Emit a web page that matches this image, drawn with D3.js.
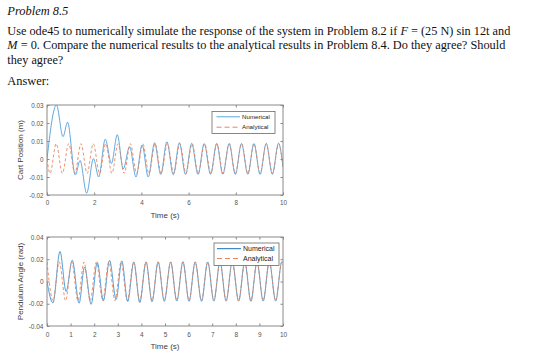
<!DOCTYPE html>
<html><head><meta charset="utf-8">
<script src="https://cdn.jsdelivr.net/npm/d3@7"></script>
<style>
html,body{margin:0;padding:0;background:#fff;}
svg{display:block;}
</style></head>
<body>
<svg id="c" width="543" height="359"></svg>
<script>
// ---------- data ----------
const xTicks1 = [0, 2, 4, 6, 8, 10];
const yTicks1 = [-0.02, -0.01, 0, 0.01, 0.02, 0.03];
const xTicks2 = [0, 1, 2, 3, 4, 5, 6, 7, 8, 9, 10];
const yTicks2 = [-0.04, -0.02, 0, 0.02, 0.04];
const seriesNames = ["Numerical", "Analytical"];

// Cart position — numerical (extrema)
const numCartT = [0, 0.40, 0.68, 0.87, 1.20, 1.40, 1.68, 1.97, 2.19, 2.47, 2.73, 2.98, 3.23, 3.50, 3.77, 4.03, 4.29, 4.56, 4.82, 5.08, 5.35, 5.61, 5.87, 6.13, 6.40, 6.66, 6.93, 7.19, 7.45, 7.72, 7.98, 8.24, 8.51, 8.77, 9.03, 9.29, 9.55, 9.81, 10];
const numCartY = [0, 0.0300, 0.0124, 0.0204, -0.0089, -0.0008, -0.0190, 0.0002, -0.0100, 0.0110, -0.0025, 0.0135, -0.0055, 0.0068, -0.0100, 0.0078, -0.0100, 0.0090, -0.0086, 0.0096, -0.0088, 0.0090, -0.0086, 0.0087, -0.0086, 0.0086, -0.0085, 0.0086, -0.0085, 0.0086, -0.0086, 0.0086, -0.0085, 0.0086, -0.0086, 0.0087, -0.0085, 0.0088, -0.0045];
// Cart position — analytical
const anaCartT = [0, 0.13, 0.39, 0.65, 0.92, 1.18, 1.44, 1.70, 1.96, 2.23, 2.49, 2.75, 3.01, 3.27, 3.53, 3.80, 4.06, 4.32, 4.58, 4.84, 5.10, 5.37, 5.63, 5.89, 6.15, 6.41, 6.68, 6.94, 7.20, 7.46, 7.72, 7.98, 8.25, 8.51, 8.77, 9.03, 9.29, 9.55, 9.82, 10];
const anaCartY = [0, -0.0080, 0.0085, -0.0080, 0.0085, -0.0080, 0.0085, -0.0080, 0.0085, -0.0080, 0.0085, -0.0080, 0.0085, -0.0080, 0.0085, -0.0080, 0.0085, -0.0080, 0.0085, -0.0080, 0.0085, -0.0080, 0.0085, -0.0080, 0.0085, -0.0080, 0.0085, -0.0080, 0.0085, -0.0080, 0.0085, -0.0080, 0.0085, -0.0080, 0.0085, -0.0080, 0.0085, -0.0080, 0.0085, -0.0047];

// Pendulum angle — numerical
const numPendT = [0, 0.25, 0.55, 0.81, 1.07, 1.36, 1.59, 1.87, 2.13, 2.39, 2.65, 2.93, 3.17, 3.42, 3.68, 3.93, 4.20, 4.45, 4.71, 4.97, 5.24, 5.50, 5.76, 6.02, 6.28, 6.55, 6.81, 7.07, 7.33, 7.59, 7.85, 8.12, 8.38, 8.64, 8.90, 9.16, 9.42, 9.69, 9.95, 10];
const numPendY = [0, -0.0193, 0.0270, -0.0090, 0.0192, -0.0195, 0.0130, -0.0205, 0.0172, -0.0172, 0.0190, -0.0160, 0.0185, -0.0180, 0.0176, -0.0190, 0.0176, -0.0182, 0.0176, -0.0178, 0.0176, -0.0176, 0.0178, -0.0178, 0.0176, -0.0178, 0.0176, -0.0176, 0.0176, -0.0176, 0.0178, -0.0176, 0.0176, -0.0178, 0.0176, -0.0176, 0.0178, -0.0176, 0.0176, 0.0170];
// Pendulum angle — analytical
const anaPendT = [0, 0.26, 0.52, 0.79, 1.05, 1.31, 1.57, 1.83, 2.09, 2.36, 2.62, 2.88, 3.14, 3.40, 3.67, 3.93, 4.19, 4.45, 4.71, 4.97, 5.24, 5.50, 5.76, 6.02, 6.28, 6.54, 6.81, 7.07, 7.33, 7.59, 7.85, 8.12, 8.38, 8.64, 8.90, 9.16, 9.42, 9.69, 9.95, 10];
const anaPendY = [0.0175, -0.0172, 0.0175, -0.0172, 0.0175, -0.0172, 0.0175, -0.0172, 0.0175, -0.0172, 0.0175, -0.0172, 0.0175, -0.0172, 0.0175, -0.0172, 0.0175, -0.0172, 0.0175, -0.0172, 0.0175, -0.0172, 0.0175, -0.0172, 0.0175, -0.0172, 0.0175, -0.0172, 0.0175, -0.0172, 0.0175, -0.0172, 0.0175, -0.0172, 0.0175, -0.0172, 0.0175, -0.0172, 0.0175, 0.0142];

// ---------- drawing ----------
const svg = d3.select("#c");
const serif = "'Liberation Serif','Times New Roman',serif";
const sans = "'Liberation Sans',Arial,Helvetica,sans-serif";

// problem text
svg.append("text").attr("x", 7.3).attr("y", 15).attr("font-family", serif)
  .attr("font-size", 12).attr("font-style", "italic").attr("fill", "#111")
  .attr("textLength", 61).attr("lengthAdjust", "spacingAndGlyphs").text("Problem 8.5");

const l1 = svg.append("text").attr("x", 7.3).attr("y", 35).attr("font-family", serif)
  .attr("font-size", 11.5).attr("fill", "#111").attr("textLength", 503).attr("lengthAdjust", "spacingAndGlyphs");
l1.append("tspan").text("Use ode45 to numerically simulate the response of the system in Problem 8.2 if ");
l1.append("tspan").attr("font-style", "italic").text("F");
l1.append("tspan").text(" = (25 N) sin 12t and");

const l2 = svg.append("text").attr("x", 7.3).attr("y", 49.3).attr("font-family", serif)
  .attr("font-size", 11.5).attr("fill", "#111").attr("textLength", 498).attr("lengthAdjust", "spacingAndGlyphs");
l2.append("tspan").attr("font-style", "italic").text("M");
l2.append("tspan").text(" = 0. Compare the numerical results to the analytical results in Problem 8.4. Do they agree? Should");

svg.append("text").attr("x", 7.3).attr("y", 63.6).attr("font-family", serif)
  .attr("font-size", 11.5).attr("fill", "#111").attr("textLength", 56).attr("lengthAdjust", "spacingAndGlyphs").text("they agree?");
svg.append("text").attr("x", 7.3).attr("y", 85).attr("font-family", serif)
  .attr("font-size", 11.5).attr("fill", "#111").attr("textLength", 42).attr("lengthAdjust", "spacingAndGlyphs").text("Answer:");

function panel(opt) {
  const x = d3.scaleLinear().domain([0, 10]).range([opt.left, opt.right]);
  const y = d3.scaleLinear().domain(opt.yDomain).range([opt.bottom, opt.top]);
  const g = svg.append("g");
  const axisCol = "#8a8a8a";

  g.append("rect").attr("x", opt.left).attr("y", opt.top)
    .attr("width", opt.right - opt.left).attr("height", opt.bottom - opt.top)
    .attr("fill", "#fff");

  const cid = "clip" + opt.id;
  svg.append("clipPath").attr("id", cid).append("rect")
    .attr("x", opt.left).attr("y", opt.top)
    .attr("width", opt.right - opt.left).attr("height", opt.bottom - opt.top);

  const line = d3.line().x(d => x(d[0])).y(d => y(d[1])).curve(d3.curveMonotoneX);
  const numData = opt.numT.map((t, i) => [t, opt.numY[i]]);
  const anaData = opt.anaT.map((t, i) => [t, opt.anaY[i]]);
  const lg = g.append("g").attr("clip-path", `url(#${cid})`);
  lg.append("path").attr("d", line(numData)).attr("fill", "none")
    .attr("stroke", opt.blue).attr("stroke-width", 0.9);
  lg.append("path").attr("d", line(anaData)).attr("fill", "none")
    .attr("stroke", "#e8865e").attr("stroke-width", 0.9).attr("stroke-dasharray", "3,2.2");

  const styleAxis = sel => {
    sel.select(".domain").remove();
    sel.selectAll(".tick line").attr("stroke", axisCol);
    sel.selectAll(".tick text").attr("fill", "#555").attr("font-family", sans).attr("font-size", opt.tickFs);
  };
  g.append("g").attr("transform", `translate(0,${opt.bottom})`)
    .call(d3.axisBottom(x).tickValues(opt.xTicks).tickSize(-2.5).tickPadding(6).tickFormat(d3.format("d")))
    .call(styleAxis);
  g.append("g").attr("transform", `translate(0,${opt.top})`)
    .call(d3.axisTop(x).tickValues(opt.xTicks).tickSize(-2.5).tickFormat(""))
    .call(styleAxis);
  g.append("g").attr("transform", `translate(${opt.left},0)`)
    .call(d3.axisLeft(y).tickValues(opt.yTicks).tickSize(-2.5).tickPadding(3.5).tickFormat(d => d === 0 ? "0" : d3.format(".2f")(d).replace("−", "-")))
    .call(styleAxis);
  g.append("g").attr("transform", `translate(${opt.right},0)`)
    .call(d3.axisRight(y).tickValues(opt.yTicks).tickSize(-2.5).tickFormat(""))
    .call(styleAxis);

  g.append("rect").attr("x", opt.left).attr("y", opt.top)
    .attr("width", opt.right - opt.left).attr("height", opt.bottom - opt.top)
    .attr("fill", "none").attr("stroke", axisCol).attr("stroke-width", 1);

  g.append("text").attr("x", (opt.left + opt.right) / 2).attr("y", opt.xLabelY)
    .attr("text-anchor", "middle").attr("font-family", sans).attr("font-size", 8)
    .attr("fill", "#404040").text("Time (s)");
  g.append("text").attr("transform", `translate(23.3,${(opt.top + opt.bottom) / 2}) rotate(-90)`)
    .attr("text-anchor", "middle").attr("font-family", sans).attr("font-size", 8)
    .attr("fill", "#404040").text(opt.yLabel);

  const L = opt.legend;
  g.append("rect").attr("x", L.x0).attr("y", L.y0).attr("width", L.x1 - L.x0).attr("height", L.y1 - L.y0)
    .attr("fill", "#fff").attr("stroke", "#6a6a6a").attr("stroke-width", 0.8);
  const rows = [
    {name: seriesNames[0], color: opt.legBlue, dash: null},
    {name: seriesNames[1], color: "#e8865e", dash: "5,3"}
  ];
  rows.forEach((r, i) => {
    const yy = L.rowY[i];
    g.append("line").attr("x1", L.lx0).attr("x2", L.lx1).attr("y1", yy).attr("y2", yy)
      .attr("stroke", r.color).attr("stroke-width", 1).attr("stroke-dasharray", r.dash);
    g.append("text").attr("x", L.tx).attr("y", yy).attr("dy", "0.35em")
      .attr("font-family", sans).attr("font-size", L.fs).attr("fill", "#222").text(r.name);
  });
}

panel({
  id: 1, left: 47, right: 283, top: 105, bottom: 195, yDomain: [-0.02, 0.03],
  xTicks: xTicks1, yTicks: yTicks1, numT: numCartT, numY: numCartY, anaT: anaCartT, anaY: anaCartY,
  blue: "#4f9fdb", legBlue: "#5aa8e0", tickFs: 6.3, xLabelY: 218, yLabel: "Cart Position (m)",
  legend: {x0: 212, x1: 275, y0: 111.5, y1: 133.5, lx0: 216.5, lx1: 240, tx: 242, rowY: [116.8, 127.2], fs: 6.2}
});
panel({
  id: 2, left: 47, right: 283, top: 237, bottom: 326, yDomain: [-0.04, 0.04],
  xTicks: xTicks2, yTicks: yTicks2, numT: numPendT, numY: numPendY, anaT: anaPendT, anaY: anaPendY,
  blue: "#3f93d3", legBlue: "#1a6fb5", tickFs: 6.5, xLabelY: 348.5, yLabel: "Pendulum Angle (rad)",
  legend: {x0: 214, x1: 279, y0: 243, y1: 265.5, lx0: 217, lx1: 241, tx: 243, rowY: [248.7, 258.5], fs: 7}
});
</script>
</body></html>
